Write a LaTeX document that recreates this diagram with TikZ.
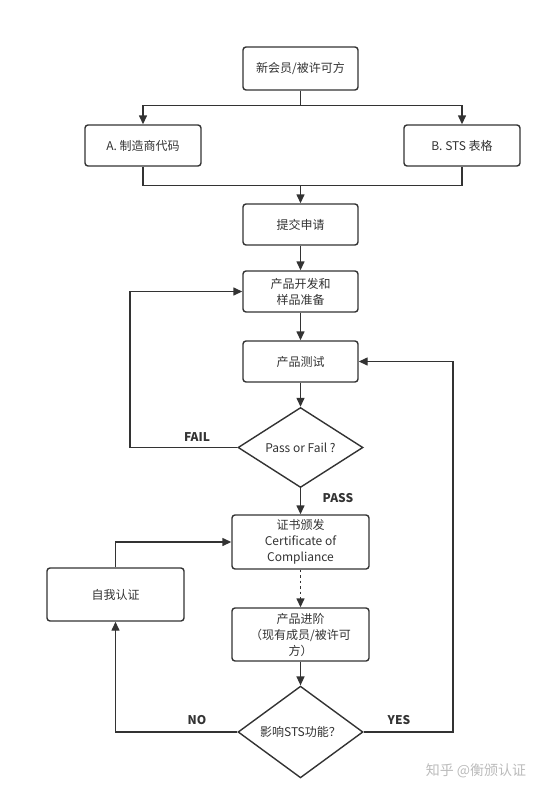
\documentclass[tikz,border=0pt]{standalone}
\usepackage{fontspec}
\setmainfont{Noto Sans CJK SC}
\usetikzlibrary{arrows.meta,shapes.geometric}
\definecolor{ink}{HTML}{333333}
\definecolor{wm}{HTML}{BBBBBB}
\tikzset{
  box/.style={draw=ink, line width=1.4pt, rounded corners=3pt, fill=white,
    text=ink, align=center, inner sep=0pt, font=\fontsize{12}{16}\selectfont},
  dia/.style={draw=ink, line width=1.4pt, diamond, fill=white, text=ink,
    inner sep=0pt, minimum width=125pt, minimum height=73pt, font=\fontsize{12}{16}\selectfont},
  conn/.style={draw=ink, line width=1.4pt},
  arr/.style={conn, -{Triangle[length=9pt,width=8pt]}},
  dots/.style={dash pattern=on 2.5pt off 3pt},
  lbl/.style={text=ink, font=\fontsize{12}{14}\selectfont\bfseries, inner sep=0pt}
}
\begin{document}
\begin{tikzpicture}[x=1pt,y=-1pt]
\useasboundingbox (0,0) rectangle (551,800);
% nodes
\node[box, minimum width=115pt, minimum height=43pt] (n1) at (300.5,68.5) {新会员/被许可方};
\node[box, minimum width=116pt, minimum height=41pt] (a) at (143,145.5) {A. 制造商代码};
\node[box, minimum width=116pt, minimum height=41pt] (b) at (462,145.5) {B. STS 表格};
\node[box, minimum width=115pt, minimum height=41pt] (sub) at (300.5,224.5) {提交申请};
\node[box, minimum width=115pt, minimum height=41pt] (dev) at (300.5,291.5) {产品开发和\\样品准备};
\node[box, minimum width=115pt, minimum height=41pt] (test) at (300.5,361.5) {产品测试};
\node[dia] (d1) at (300.5,447.5) {Pass or Fail ?};
\node[box, minimum width=137pt, minimum height=54pt] (cert) at (300.5,542) {证书颁发\\Certificate of\\Compliance};
\node[box, minimum width=137pt, minimum height=53pt] (adv) at (300.5,634.5) {产品进阶\\（现有成员/被许可\\方）};
\node[dia] (d2) at (300.5,732) {影响STS功能？};
\node[box, minimum width=137pt, minimum height=53pt] (self) at (115.5,594.5) {自我认证};
% free corners
\coordinate (fl) at (130,447.5);
\coordinate (nl) at (115.5,732);
\coordinate (yr) at (453,732);
\coordinate (sl) at (115.5,542);
% connectors
\draw[arr] (n1.south) -- ++(0,15) -| (a.north);
\draw[arr] (n1.south) -- ++(0,15) -| (b.north);
\draw[conn] (a.south) -- ++(0,18.5) -| (b.south);
\draw[arr] (a.south) ++(157.5,18.5) -- (sub.north);
\draw[arr] (sub) -- (dev);
\draw[arr] (dev) -- (test);
\draw[arr] (test) -- (d1);
\draw[arr] (d1.west) -- (fl) |- (dev.west);
\draw[arr] (d1.south) -- (cert.north);
\draw[arr, dots] (cert.south) -- (adv.north);
\draw[arr] (adv.south) -- (d2.north);
\draw[arr] (d2.west) -- (nl) -- (self.south);
\draw[arr] (d2.east) -- (yr) |- (test.east);
\draw[arr] (self.north) -- (sl) -- (cert.west);
% labels
\node[lbl] (fail) at (197,437) {FAIL};
\node[lbl] (pass) at (338,498) {PASS};
\node[lbl] (no) at (197,720) {NO};
\node[lbl] (yes) at (399,720) {YES};
\node[text=wm, font=\fontsize{14}{16}\selectfont, inner sep=0pt] (wmk) at (476,771) {知乎 @衡颁认证};
\end{tikzpicture}
\end{document}
